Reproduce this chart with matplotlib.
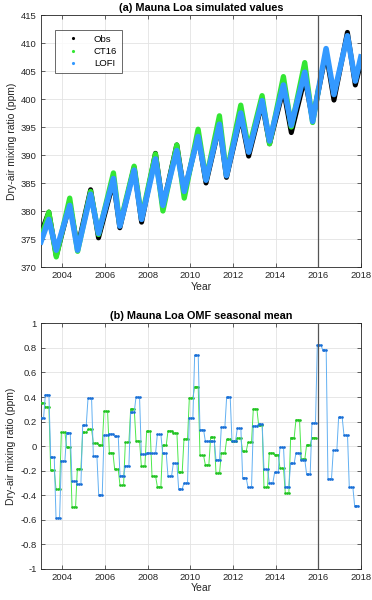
import numpy as np
import matplotlib
matplotlib.use('Agg')
import matplotlib.pyplot as plt
from matplotlib.ticker import FuncFormatter

plt.rcParams['font.family'] = ['Liberation Sans', 'DejaVu Sans']

# ---- (a) key points (seasonal peaks / troughs) ----
t_key = [2003.00, 2003.37, 2003.72, 2004.35, 2004.72, 2005.33, 2005.70,
         2006.40, 2006.70, 2007.37, 2007.72, 2008.37, 2008.72, 2009.37,
         2009.72, 2010.37, 2010.74, 2011.37, 2011.70, 2012.37, 2012.74,
         2013.37, 2013.72, 2014.37, 2014.74, 2015.37, 2015.74, 2016.37,
         2016.74, 2017.37, 2017.74, 2018.00]
lofi_key = [374.5, 378.5, 373.0, 381.0, 373.0, 383.0, 376.0, 385.8, 377.3,
            387.3, 378.5, 389.3, 381.0, 390.8, 383.5, 393.3, 385.5, 395.5,
            386.3, 397.5, 390.5, 399.7, 392.5, 402.5, 395.3, 404.8, 396.0,
            409.0, 400.8, 411.3, 403.2, 407.5]
obs_key = [376.0, 379.8, 372.0, 381.3, 373.5, 383.8, 375.2, 385.3, 377.0,
           387.8, 378.0, 390.3, 380.8, 391.8, 383.3, 393.5, 385.0, 395.3,
           386.0, 397.0, 389.8, 399.3, 392.0, 401.8, 394.0, 403.8, 396.3,
           408.3, 399.8, 411.9, 402.5, 406.5]
ct16_t = [2003.00, 2003.37, 2003.72, 2004.35, 2004.72, 2005.33, 2005.70,
          2006.40, 2006.70, 2007.37, 2007.72, 2008.37, 2008.72, 2009.37,
          2009.72, 2010.37, 2010.74, 2011.37, 2011.70, 2012.37, 2012.74,
          2013.37, 2013.72, 2014.37, 2014.74, 2015.37, 2015.74, 2016.00]
ct16_key = [375.0, 379.8, 371.8, 382.3, 372.8, 383.5, 375.8, 386.8, 377.5,
            388.0, 378.8, 390.2, 380.0, 391.8, 382.3, 394.6, 385.6, 397.0,
            386.5, 398.9, 391.0, 400.6, 392.0, 404.0, 395.0, 406.5, 395.8,
            401.5]

# ---- (b) seasonal mean OMF (DJF 2003 ... SON 2017) ----
lofi_omf = [0.23, 0.42, -0.09, -0.585, -0.12, 0.11, -0.285, -0.31,
            0.17, 0.39, -0.08, -0.395, 0.09, 0.10, 0.08, -0.24,
            -0.16, 0.275, 0.40, -0.065, -0.055, -0.06, 0.095, -0.06,
            -0.245, -0.14, -0.35, -0.30, 0.23, 0.74, 0.135, 0.04,
            0.04, -0.11, 0.155, 0.40, 0.04, 0.145, -0.257, -0.336,
            0.165, 0.18, -0.19, -0.30, -0.215, -0.01, -0.33, -0.14,
            -0.055, -0.115, -0.23, 0.19, 0.825, 0.785, -0.265, -0.035,
            0.235, 0.09, -0.335, -0.485]
ct16_omf = [0.355, 0.32, -0.198, -0.352, 0.111, -0.011, -0.497, -0.184,
            0.111, 0.136, 0.024, 0.008, 0.285, -0.054, -0.19, -0.32,
            0.03, 0.304, 0.043, -0.163, 0.122, -0.244, -0.33, 0.005,
            0.125, 0.108, -0.211, 0.06, 0.393, 0.485, -0.076, -0.152,
            0.073, -0.22, -0.057, 0.054, 0.043, 0.065, -0.043, 0.03,
            0.304, 0.17, -0.335, -0.055, -0.07, -0.18, -0.385, 0.07,
            0.215, -0.105, 0.01, 0.07]

C_GREEN = '#33e633'
C_BLUE = '#3399ff'
TXT = '#262626'


def season_xy(vals):
    # each seasonal mean drawn at its three mid-month dates
    i = np.repeat(np.arange(len(vals)), 3)
    j = np.tile(np.arange(3), len(vals))
    x = 2002 + (11.5 + 3 * i + j) / 12.0
    return x, np.repeat(vals, 3)


def style_axes(ax):
    ax.grid(True, color='#e3e3e3', linewidth=0.6)
    ax.set_axisbelow(True)
    for s in ax.spines.values():
        s.set_color('#262626')
        s.set_linewidth(0.6)
    ax.tick_params(direction='in', length=3, width=0.5, top=True, right=True,
                   labelsize=6.8, colors=TXT, pad=3)
    ax.set_xlim(2003, 2018)
    ax.set_xticks(np.arange(2004, 2019, 2))
    ax.set_xlabel('Year', fontsize=7.5, color=TXT, labelpad=1)
    ax.set_ylabel('Dry-air mixing ratio (ppm)', fontsize=7.5, color=TXT, labelpad=3)
    ax.axvline(2016, color='#555555', linewidth=0.9, zorder=5)


fig = plt.figure(figsize=(3.72, 6.0), dpi=100)
ax1 = fig.add_axes([0.110, 0.555, 0.860, 0.420])
ax2 = fig.add_axes([0.110, 0.052, 0.860, 0.409])

# panel (a)
ax1.plot(t_key, obs_key, color='black', linewidth=3.6,
         solid_joinstyle='round', zorder=2)
ax1.plot(ct16_t, ct16_key, color=C_GREEN, linewidth=3.8,
         solid_joinstyle='round', zorder=3)
ax1.plot(t_key, lofi_key, color=C_BLUE, linewidth=4.0,
         solid_joinstyle='round', zorder=4)
ax1.set_ylim(370, 415)
ax1.set_yticks(np.arange(370, 416, 5))
style_axes(ax1)
ax1.set_title('(a) Mauna Loa simulated values', fontsize=7.8,
              fontweight='bold', color='black', pad=3)
h_obs, = ax1.plot([], [], '.', color='black', markersize=2.5, label='Obs')
h_ct, = ax1.plot([], [], '.', color=C_GREEN, markersize=2.5, label='CT16')
h_lo, = ax1.plot([], [], '.', color=C_BLUE, markersize=2.5, label='LOFI')
leg = ax1.legend(handles=[h_obs, h_ct, h_lo], loc='upper left',
                 bbox_to_anchor=(0.03, 0.96), fontsize=6.8, frameon=True,
                 fancybox=False, edgecolor='#262626', handlelength=2.8,
                 borderpad=0.5, labelspacing=0.35)
leg.get_frame().set_linewidth(0.6)

# panel (b)
xg, yg = season_xy(ct16_omf)
xb, yb = season_xy(lofi_omf)
ax2.plot(xg, yg, color='#4be84b', linewidth=0.7, marker='.',
         markersize=1.8, markerfacecolor='#22c222', markeredgecolor='#22c222',
         zorder=3)
ax2.plot(xb, yb, color='#62b0f2', linewidth=0.7, marker='.',
         markersize=1.8, markerfacecolor='#1a6fd6', markeredgecolor='#1a6fd6',
         zorder=4)
ax2.set_ylim(-1, 1)
ax2.set_yticks(np.round(np.arange(-1, 1.01, 0.2), 1))
ax2.yaxis.set_major_formatter(FuncFormatter(lambda v, p: f'{round(v, 1) + 0:g}'))
style_axes(ax2)
ax2.set_title('(b) Mauna Loa OMF seasonal mean', fontsize=7.8,
              fontweight='bold', color='black', pad=3)

fig.savefig('out.png', dpi=100)
